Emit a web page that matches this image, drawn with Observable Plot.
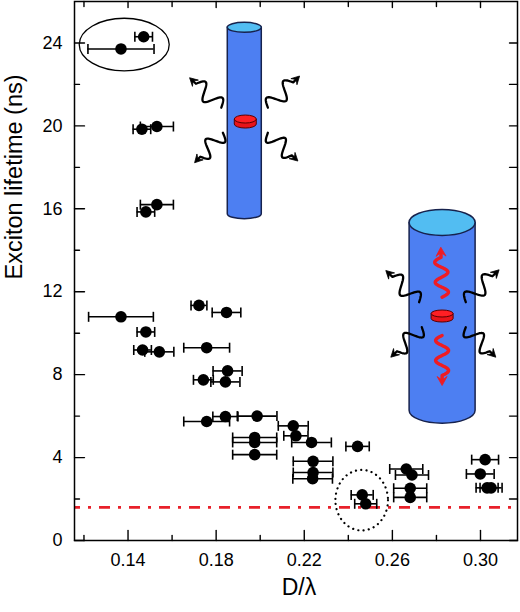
<!DOCTYPE html>
<html><head><meta charset="utf-8">
<script src="https://cdn.jsdelivr.net/npm/d3@7"></script>
<script src="https://cdn.jsdelivr.net/npm/@observablehq/plot@0.6"></script>
<style>body{margin:0;background:#fff}</style>
</head><body><div id="chart"></div>
<script>
// ---- data ----
const ratio = [0.1368,0.1471,0.1463,0.1531,0.1531,0.1481,0.1368,0.1481,0.1466,0.1542,
  0.1722,0.1847,0.1757,0.1852,0.1742,0.1842,0.1757,0.1842,0.1986,0.1975,0.1975,0.1975,
  0.2150,0.2162,0.2233,0.2240,0.2240,0.2238,0.2442,0.2663,0.2689,0.2681,0.2681,0.2463,0.2479,
  0.3021,0.2999,0.3030,0.3048];
const lifetime = [23.71,24.30,19.84,19.97,16.20,15.85,10.79,10.06,9.19,9.10,
  11.34,11.00,9.30,8.18,7.75,7.65,5.74,5.98,6.00,4.97,4.73,4.14,
  5.53,5.05,4.73,3.82,3.28,2.98,4.54,3.45,3.16,2.52,2.08,2.20,1.77,
  3.90,3.21,2.54,2.54];
const ratioErr = [0.015,0.004,0.004,0.0075,0.0075,0.004,0.0147,0.004,0.004,0.0066,
  0.0036,0.0065,0.0104,0.0066,0.0045,0.0066,0.0104,0.0057,0.009,0.010,0.010,0.010,
  0.0068,0.0055,0.009,0.009,0.009,0.009,0.0053,0.0075,0.0075,0.0075,0.0075,0.005,0.005,
  0.0061,0.0063,0.005,0.005];
const xTicks = [0.14,0.18,0.22,0.26,0.30];
const xMinorTicks = [0.12,0.16,0.20,0.24,0.28];
const yTicks = [0,4,8,12,16,20,24];
const yMinorTicks = [2,6,10,14,18,22];
const thresholdLifetime = [1.6];
const xLabel = "D/λ";
const yLabel = "Exciton lifetime (ns)";

const points = ratio.map((x, i) => ({x, y: lifetime[i], e: ratioErr[i]}));
const xDomain = [0.1157, 0.3168];
const yDomain = [0, 26];

const tickShape = {draw(ctx, l) { ctx.moveTo(0, 0); ctx.lineTo(0, -l); }};
const capSymbol = {draw(ctx, size) { const h = Math.sqrt(size / Math.PI); ctx.moveTo(0, -h); ctx.lineTo(0, h); }};
const tk = (data, opts) => Plot.vector(data, {anchor: "start", shape: tickShape, stroke: "black", strokeWidth: 1.4, ...opts});

const plot = Plot.plot({
  width: 520, height: 612,
  marginLeft: 74, marginRight: 3, marginTop: 1, marginBottom: 72,
  style: {fontFamily: "'Liberation Sans', Arial, sans-serif", color: "black", background: "white", overflow: "visible"},
  x: {domain: xDomain},
  y: {domain: yDomain},
  marks: [
    Plot.ruleY(thresholdLifetime, {stroke: "#e8202a", strokeWidth: 2.6, strokeDasharray: "11,8,3,8", strokeDashoffset: 5}),
    // inward ticks
    tk(xTicks, {x: d => d, y: yDomain[0], length: 10, rotate: 0}),
    tk(xMinorTicks, {x: d => d, y: yDomain[0], length: 5, rotate: 0}),
    tk(xTicks, {x: d => d, y: yDomain[1], length: 6, rotate: 180}),
    tk(xMinorTicks, {x: d => d, y: yDomain[1], length: 5, rotate: 180}),
    tk(yTicks, {x: xDomain[0], y: d => d, length: 10, rotate: 90}),
    tk(yMinorTicks, {x: xDomain[0], y: d => d, length: 5, rotate: 90}),
    tk(yTicks.concat(yMinorTicks), {x: xDomain[1], y: d => d, length: 8, rotate: 270}),
    Plot.frame({stroke: "black", strokeWidth: 1.5}),
    Plot.axisX(xTicks, {tickSize: 0, tickPadding: 13, fontSize: 18, label: null, tickFormat: d3.format(".2f")}),
    Plot.axisY(yTicks, {tickSize: 0, tickPadding: 12, fontSize: 18, label: null}),
    Plot.text([yLabel], {frameAnchor: "left", dx: -60, dy: 8.5, rotate: -90, fontSize: 23.5}),
    Plot.text([xLabel], {frameAnchor: "bottom", dx: 3, dy: 54, fontSize: 23}),
    // error bars
    Plot.ruleY(points, {y: "y", x1: d => d.x - d.e, x2: d => d.x + d.e, stroke: "black", strokeWidth: 1.6}),
    Plot.dot(points, {x: d => d.x - d.e, y: "y", r: 5, symbol: capSymbol, fill: "none", stroke: "black", strokeWidth: 1.6}),
    Plot.dot(points, {x: d => d.x + d.e, y: "y", r: 5, symbol: capSymbol, fill: "none", stroke: "black", strokeWidth: 1.6}),
    Plot.dot(points, {x: "x", y: "y", r: 5.8, fill: "black"})
  ]
});
document.getElementById("chart").appendChild(plot);

// ---- decorations, anchored via the plot's scales ----
const X = plot.scale("x"), Y = plot.scale("y");
const px = v => X.apply(v), py = v => Y.apply(v);
const svg = d3.select(plot);
const g = svg.append("g");

// highlight ellipses
g.append("ellipse").attr("cx", px(0.1385)).attr("cy", py(23.9)).attr("rx", 45).attr("ry", 26.3)
  .attr("fill", "none").attr("stroke", "black").attr("stroke-width", 1.3);
g.append("ellipse").attr("cx", px(0.2463)).attr("cy", py(1.92)).attr("rx", 26.3).attr("ry", 30.3)
  .attr("fill", "none").attr("stroke", "black").attr("stroke-width", 2.2)
  .attr("stroke-dasharray", "0.1,5.2").attr("stroke-linecap", "round");

function cylinder(cx, top, bottom, hw, ry) {
  g.append("path").attr("d", `M${cx-hw},${top}L${cx-hw},${bottom}A${hw},${ry} 0 0 0 ${cx+hw},${bottom}L${cx+hw},${top}Z`)
    .attr("fill", "#4d7ff2").attr("stroke", "#17224d").attr("stroke-width", 1.5);
  g.append("ellipse").attr("cx", cx).attr("cy", top).attr("rx", hw).attr("ry", ry)
    .attr("fill", "#52bdf2").attr("stroke", "#17224d").attr("stroke-width", 1.5);
}
function disk(cx, cy, rx, ry, t) {
  g.append("path").attr("d", `M${cx-rx},${cy}L${cx-rx},${cy+t}A${rx},${ry} 0 0 0 ${cx+rx},${cy+t}L${cx+rx},${cy}Z`)
    .attr("fill", "#e8141a").attr("stroke", "#5a0000").attr("stroke-width", 1);
  g.append("ellipse").attr("cx", cx).attr("cy", cy).attr("rx", rx).attr("ry", ry)
    .attr("fill", "#ff1f24").attr("stroke", "#5a0000").attr("stroke-width", 1);
}
function squiggle(x0, y0, x1, y1, amp, periods, color, w) {
  const dx = x1 - x0, dy = y1 - y0, L = Math.hypot(dx, dy);
  const ux = dx / L, uy = dy / L, nx = -uy, ny = ux;
  const pts = [];
  const N = 60, frac = 0.8;
  for (let i = 0; i <= N; i++) {
    const t = i / N * frac;
    const s = amp * Math.sin((i / N) * periods * 2 * Math.PI);
    pts.push([x0 + dx * t + nx * s, y0 + dy * t + ny * s]);
  }
  const ah = w > 2.5 ? 9 : 8, aw = w > 2.5 ? 5 : 4.3;
  pts.push([x1 - ux * ah * 0.6, y1 - uy * ah * 0.6]);
  g.append("path").attr("d", d3.line()(pts)).attr("fill", "none").attr("stroke", color)
    .attr("stroke-width", w).attr("stroke-linecap", "round").attr("stroke-linejoin", "round");
  const bx = x1 - ux * ah, by = y1 - uy * ah;
  g.append("path").attr("d", `M${x1},${y1}L${bx + nx * aw},${by + ny * aw}L${x1 - ux*ah*0.6},${y1 - uy*ah*0.6}L${bx - nx * aw},${by - ny * aw}Z`)
    .attr("fill", color).attr("stroke", color).attr("stroke-width", 0.8).attr("stroke-linejoin", "round");
}

// cylinder 1 (single emitter)
{
  const ax = px(0.1930), ay = py(20.2);
  cylinder(ax, py(24.73), py(15.74), 17, 5);
  disk(ax + 1, ay - 2.2, 11, 4, 5);
  squiggle(ax - 23, ay - 13.5, ax - 54.7, ay - 43.5, 8, 1.5, "black", 2.3);
  squiggle(ax + 23.6, ay - 13.5, ax + 55.3, ay - 45.2, -8, 1.5, "black", 2.3);
  squiggle(ax - 21.4, ay + 11.5, ax - 49.7, ay + 41.5, -8, 1.5, "black", 2.3);
  squiggle(ax + 23.6, ay + 11.5, ax + 53.6, ay + 39.8, 8, 1.5, "black", 2.3);
}
// cylinder 2 (guided emission)
{
  const ax = px(0.2828), ay = py(10.8);
  cylinder(ax, py(15.32), py(6.26), 33, 13);
  squiggle(ax, ay - 18.9, ax - 1.3, ay - 68.9, 6.5, 2, "#ee1c24", 3.4);
  squiggle(ax, ay + 19.4, ax, ay + 69.4, 6.5, 2, "#ee1c24", 3.4);
  disk(ax, ay - 2.6, 11, 3.5, 5);
  squiggle(ax - 23, ay - 13.9, ax - 56.3, ay - 45.6, 8, 1.5, "black", 2.3);
  squiggle(ax + 23.7, ay - 13.9, ax + 57, ay - 46.3, -8, 1.5, "black", 2.3);
  squiggle(ax - 20.3, ay + 11.1, ax - 51.3, ay + 41.1, -8, 1.5, "black", 2.3);
  squiggle(ax + 23.7, ay + 11.1, ax + 53.7, ay + 41.1, 8, 1.5, "black", 2.3);
}
</script>
</body></html>
